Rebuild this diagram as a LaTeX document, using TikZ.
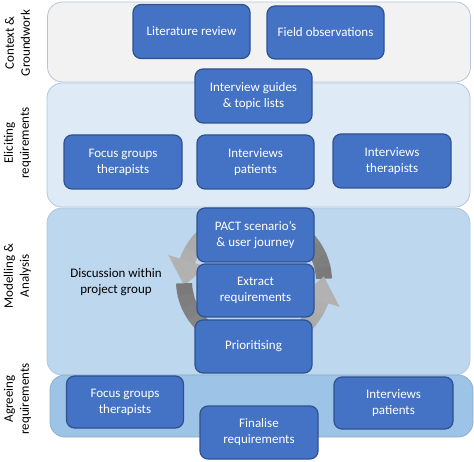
\documentclass[tikz,border=0pt]{standalone}
\usepackage{fontspec}
\setmainfont{Carlito}
\usepackage{xcolor}
\usepackage{tikz}
\usetikzlibrary{positioning}

\definecolor{boxblue}{HTML}{4472C4}
\definecolor{boxedge}{HTML}{2F528F}
\definecolor{bandgrey}{HTML}{F2F2F2}
\definecolor{bandpale}{HTML}{DEEBF7}
\definecolor{bandmid}{HTML}{BDD7EE}
\definecolor{banddeep}{HTML}{9DC3E6}
\definecolor{bandedge}{HTML}{B4C6DB}

\begin{document}
\begin{tikzpicture}[x=1pt, y=-1pt, font=\fontsize{13}{16}\selectfont]
	\tikzstyle{band}=[draw=bandedge, line width=0.8pt, rounded corners=15pt, minimum width=423pt, inner sep=0pt]
	\tikzstyle{task}=[fill=boxblue, draw=boxedge, line width=1.2pt, rounded corners=8pt, text=white, align=center, minimum width=117pt, minimum height=54pt, inner sep=0pt]
	\tikzstyle{phase}=[rotate=90, align=center, text=black]

	\useasboundingbox (0,0) rectangle (474,462);

	% phases
	\node[band, fill=bandgrey, minimum height=80pt] (context) at (259,42) {};
	\node[band, fill=bandpale, minimum height=124pt] (eliciting) at (258.5,145) {};
	\node[band, fill=bandmid, minimum height=167pt] (modelling) at (258.5,291.5) {};
	\node[band, fill=banddeep, draw=banddeep!90!black, minimum height=62pt] (agreeing) at (261.5,406) {};

	\node[phase] (contextlabel) at (17.5,43) {Context \&\\Groundwork};
	\node[phase] (elicitinglabel) at (17.5,143) {Eliciting\\requirements};
	\node[phase] (modellinglabel) at (17.5,276) {Modelling \&\\Analysis};
	\node[phase] (agreeinglabel) at (17.5,399) {Agreeing\\requirements};

	% cycle of discussion
	\coordinate (cycle) at (254,281);
	\begin{scope}[shift={(cycle)}, yscale=-0.93]
		\foreach \r in {0,180} {
			\begin{scope}[rotate=\r]
				\foreach \a [evaluate=\a as \c using 52-22*(\a-2)/161] in {2,12,...,152}
					\fill[black!\c] (\a:62) arc[start angle=\a, end angle=\a+11, radius=62]
						-- (\a+11:78) arc[start angle=\a+11, end angle=\a, radius=78] -- cycle;
				\fill[black!30] (162:50) -- (162:90) -- (184:70) -- cycle;
			\end{scope}
		}
	\end{scope}

	\node[align=center, text=black] (discussion) at (116,282) {Discussion within\\project group};

	% tasks
	\node[task] (literature) at (191.5,31.5) {Literature review};
	\node[task, minimum height=53pt] (field) at (325.5,32.5) {Field observations};
	\node[task] (guides) at (253.5,96) {Interview guides\\\& topic lists};

	\node[task, minimum width=118pt] (focus) at (123,162) {Focus groups\\therapists};
	\node[task] (patients) at (255.5,162) {Interviews\\patients};
	\node[task, minimum width=118pt] (therapists) at (392,161) {Interviews\\therapists};

	\node[task] (pact) at (255.5,235) {PACT scenario’s\\\& user journey};
	\node[task, minimum height=53pt] (extract) at (255.5,290.5) {Extract\\requirements};
	\node[task, minimum height=53pt] (prioritise) at (253.5,346.5) {Prioritising};

	\node[task, minimum height=52pt] (focusagain) at (125,402) {Focus groups\\therapists};
	\node[task, minimum width=119pt, minimum height=52pt] (patientsagain) at (393.5,403) {Interviews\\patients};
	\node[task, minimum width=118pt, minimum height=53pt] (finalise) at (259,432.5) {Finalise\\requirements};

\end{tikzpicture}
\end{document}
